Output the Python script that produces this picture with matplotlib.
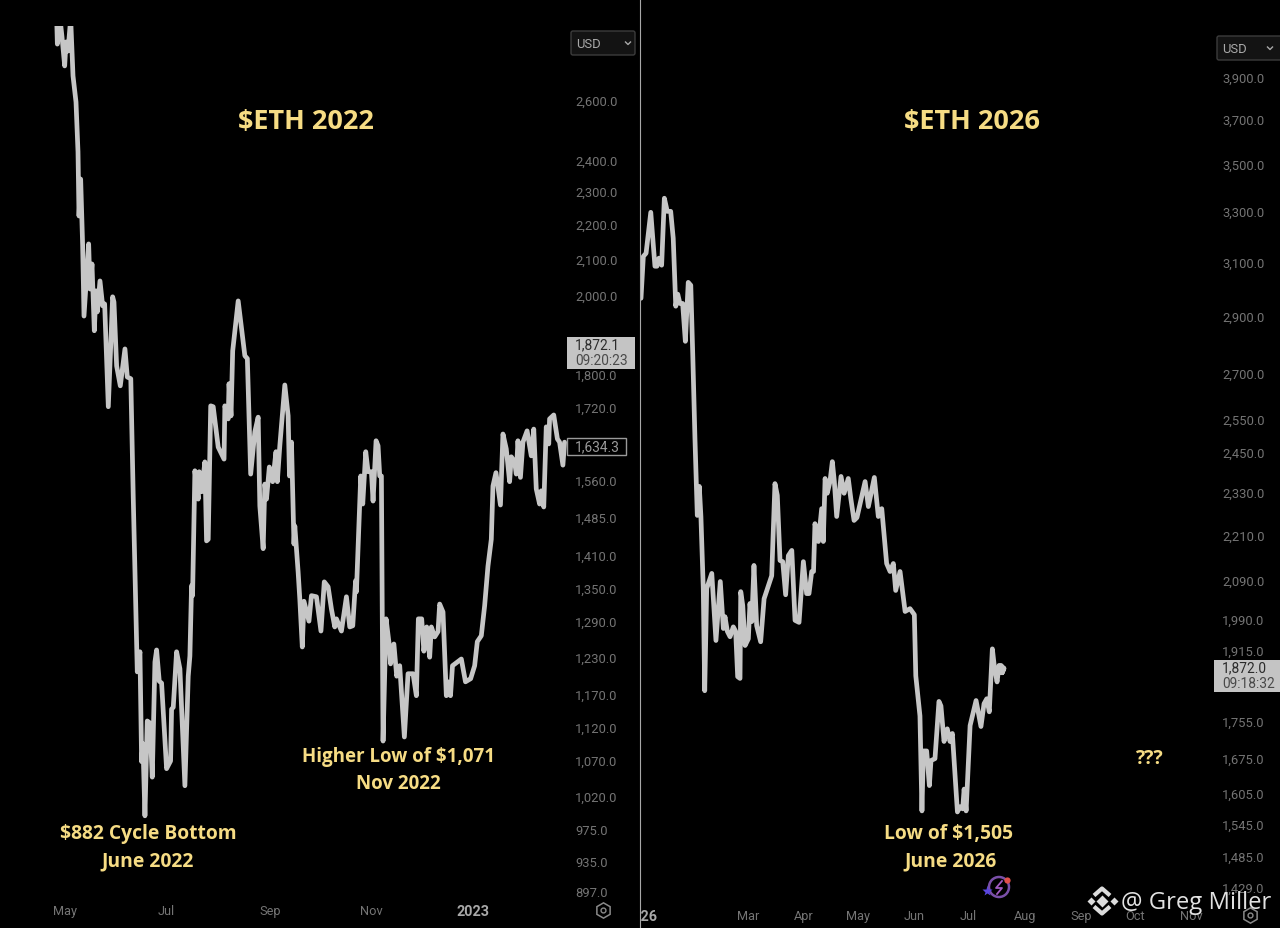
import matplotlib
matplotlib.use('Agg')
import matplotlib.pyplot as plt
from matplotlib.patches import FancyBboxPatch, Rectangle, Circle
from matplotlib.ticker import FixedLocator, FixedFormatter, NullLocator

# --- datos 2022: dias desde 1 mayo 2022, precio ETH ---
days_2022 = [-5.0, -4.6, -3.0, -1.8, -0.2, 0.6, 1.8, 3.4, 4.2, 4.8, 6.6, 7.8, 8.4, 9.4, 10.6, 11.4,
             14.2, 15, 16.2, 17.6, 18.6, 19.4, 21, 22.6, 23.8, 26, 28.6, 29.4, 31, 33.2, 36, 37.4,
             39.5, 41, 43.1, 43.4, 45, 46, 46.8, 48, 49.4, 51, 52.4, 54, 55, 56.6, 58, 61, 63.4,
             64, 65, 67, 69, 72, 74, 75, 76, 76.6, 78, 80, 80.6, 82, 84, 85, 86, 87.5, 89, 92,
             95.5, 96, 98, 98.5, 99.7, 100.7, 104, 108, 109.5, 111.5, 114, 116, 117, 119, 120,
             121, 122.7, 124.7, 126.7, 127.5, 129, 132, 134, 134.8, 136, 137.5, 138, 140, 141,
             142.5, 143.5, 146.5, 148, 151, 153.7, 155.7, 158, 160, 162, 163, 166, 169, 171,
             172.8, 174.5, 175, 177.6, 178.8, 180.6, 182, 184, 185, 186.8, 188, 189, 190, 191,
             192.8, 194.8, 195.5, 197.5, 199.2, 201, 203.8, 206, 209, 211, 212.2, 214.2, 215.5,
             217.2, 219, 220, 222, 224, 225, 227, 229, 230, 231.5, 232.7, 238, 240.5, 243.6, 246,
             247.6, 250, 252, 254, 256, 257, 258.8, 261.5, 263, 265, 267, 268, 270, 271, 272,
             273.5, 275, 277.5, 280, 281.5, 283, 285, 286, 287.5, 289, 290.5, 291, 293.5, 295.7,
             297, 299, 300]
price_2022 = [2900, 2802, 2900, 2829, 2721, 2810, 2776, 2900, 2772, 2685, 2592, 2424, 2224, 2337, 2136, 1944,
              2142, 2016, 2085, 1906, 2011, 1955, 2038, 1971, 1976, 1721, 1995, 1981, 1818, 1770, 1860, 1791,
              1787, 1520, 1238, 1205, 1238, 1068, 1094, 993, 1128, 1125, 1046, 1221, 1241, 1190, 1187, 1058, 1069,
              1146, 1149, 1238, 1210, 1034, 1198, 1231, 1353, 1335, 1579, 1520, 1577, 1535, 1598, 1437, 1440, 1723, 1721, 1630,
              1604, 1723, 1693, 1775, 1700, 1855, 1984, 1843, 1836, 1572, 1664, 1697, 1506, 1422, 1551,
              1520, 1587, 1556, 1620, 1556, 1633, 1772, 1700, 1568, 1641, 1431, 1466, 1378, 1329,
              1246, 1325, 1290, 1335, 1333, 1273, 1360, 1351, 1311, 1280, 1294, 1273, 1333, 1280,
              1282, 1362, 1342, 1568, 1510, 1620, 1577, 1577, 1516, 1644, 1633, 1568, 1568, 1098,
              1294, 1248, 1218, 1251, 1198, 1215, 1104, 1202, 1202, 1167, 1294, 1294, 1239,
              1280, 1229, 1280, 1263, 1272, 1320, 1306, 1167, 1189, 1167, 1215, 1226, 1189, 1194, 1215,
              1255, 1265, 1317, 1389, 1440, 1547, 1575, 1508, 1659, 1626, 1556, 1609, 1598, 1572, 1644,
              1565, 1641, 1666, 1611, 1670, 1541, 1510, 1537, 1504, 1675, 1637, 1693, 1702, 1648,
              1641, 1591, 1641]

# --- datos 2026: dias desde 1 enero 2026 ---
days_2026 = [0, 1.3, 2.8, 5.4, 7.7, 8.8, 9.9, 11.4, 12.9, 14.5, 16.4, 17.8, 19.2, 20.3, 21.5, 23, 24.5,
             26.1, 27.5, 28.6, 29.8, 31.1, 32.2, 33.1, 34.4, 35.2, 36.3, 39.1, 41.4, 43.8, 45.5, 46.4,
             47.7, 49.2, 51, 52.3, 53.4, 54.7, 55.1, 56.2, 57.5, 59.3, 60.2, 61.2, 62.4, 63.9, 66.1, 68,
             72.2, 74, 75.3, 76.8, 78.3, 79.9, 81.4, 83.3, 85.1, 87.3, 89.7, 91.5, 92.8, 94.3, 95.3, 96.1,
             98, 99.8, 100.7, 101.7, 102.9, 104.4, 105.7, 106.8, 108.1, 110.5, 112.2, 114.5, 115.9, 117.7,
             119.3, 123.8, 125.6, 128.9, 131.1, 133, 135.7, 137.6, 139.4, 140.7, 143.1, 145.9, 148.6, 151,
             151.8, 154.1, 155.2, 156, 157.8, 159.3, 160.2, 162.4, 164.6, 165.7, 167.4, 169.2, 170.7, 172,
             174.8, 176.2, 177.7, 178.5, 179.6, 181.8, 185.1, 187.8, 189.5, 191, 192.4, 194.1, 195.2, 196.7,
             197.8, 198.9, 200.5, 199.5, 200.5]
price_2026 = [2962, 3120, 3132, 3295, 3082, 3082, 3113, 3086, 3353, 3299, 3299, 3191, 2933, 2977, 2943, 2943, 2808,
              3021, 3010, 2760, 2490, 2263, 2346, 2260, 2067, 1821, 2067, 2106, 1938, 2085, 1967, 1996,
              1960, 1947, 1971, 1960, 1853, 1849, 2059, 2024, 1926, 1942, 2029, 1984, 2127, 1974, 1935, 2041,
              2100, 2354, 2320, 2140, 2137, 2051, 2153, 2167, 1987, 1982, 2137, 2054, 2054, 2111, 2111, 2240,
              2191, 2282, 2191, 2369, 2326, 2360, 2419, 2360, 2260, 2375, 2326, 2369, 2311, 2249,
              2257, 2360, 2288, 2372, 2260, 2282, 2132, 2111, 2132, 2062, 2111, 2009, 2016, 2001,
              1855, 1765, 1569, 1690, 1690, 1619, 1670, 1674, 1797, 1787, 1710, 1737, 1710, 1727,
              1567, 1577, 1573, 1612, 1569, 1744, 1799, 1742, 1792, 1803, 1774, 1918, 1876, 1841,
              1879, 1879, 1872, 1862, 1872]

yticks_2022 = [2600, 2400, 2300, 2200, 2100, 2000, 1800, 1720, 1560, 1485, 1410, 1350, 1290,
               1230, 1170, 1120, 1070, 1020, 975, 935, 897]
yticks_2026 = [3900, 3700, 3500, 3300, 3100, 2900, 2700, 2550, 2450, 2330, 2210, 2090, 1990,
               1915, 1755, 1675, 1605, 1545, 1485, 1429]
xticks_2022 = [0, 61, 123, 184, 245]
xlabels_2022 = ['May', 'Jul', 'Sep', 'Nov', '2023']
xticks_2026 = [0, 59, 90, 120, 151, 181, 212, 243, 273, 304]
xlabels_2026 = ['2026', 'Mar', 'Apr', 'May', 'Jun', 'Jul', 'Aug', 'Sep', 'Oct', 'Nov']

W, H = 1280, 929
GRIS = '#c6c6c6'
AMARILLO = '#f6dc84'
TICK = '#747474'
plt.rcParams['font.family'] = ['Roboto', 'DejaVu Sans']

fig = plt.figure(figsize=(12.8, 9.29), dpi=100, facecolor='black')


def panel(x0, x1, ylim, xlim, days, price, yticks, xticks, xlabels, ypad, xpad):
    ax = fig.add_axes([x0 / W, 0, (x1 - x0) / W, (H - 27) / H], facecolor='black')
    ax.plot(days, price, color=GRIS, lw=3.4, solid_joinstyle='round', solid_capstyle='round')
    ax.set_yscale('log')
    ax.set_xlim(*xlim)
    ax.set_ylim(*ylim)
    for s in ax.spines.values():
        s.set_visible(False)
    ax.yaxis.tick_right()
    ax.yaxis.set_major_locator(FixedLocator(yticks))
    ax.yaxis.set_major_formatter(FixedFormatter([f'{t:,.1f}' for t in yticks]))
    ax.yaxis.set_minor_locator(NullLocator())
    ax.tick_params(axis='y', which='both', length=0, pad=ypad, labelsize=9.4, labelcolor=TICK)
    ax.set_xticks(xticks)
    ax.set_xticklabels(xlabels)
    ax.tick_params(axis='x', length=0, pad=xpad, labelsize=9.2, labelcolor=TICK)
    for lab in ax.get_xticklabels():
        lab.set_clip_box(ax.bbox)
        lab.set_clip_on(True)
        if lab.get_text() in ('2023', '2026'):
            lab.set_fontweight('bold')
            lab.set_fontsize(10.4)
            lab.set_color('#a8a8a8')
    return ax


panel(0, 639, (854, 2871), (-39.04, 344.7), days_2022, price_2022,
      yticks_2022, xticks_2022, xlabels_2022, -46, -17)
panel(641, 1280, (1357, 4151), (0, 353), days_2026, price_2026,
      yticks_2026, xticks_2026, xlabels_2026, -41.8, -13.5)

# capa de anotaciones en pixeles
ov = fig.add_axes([0, 0, 1, 1], facecolor='none')
ov.set_xlim(0, W)
ov.set_ylim(H, 0)
ov.axis('off')
ov.plot([639.5, 639.5], [0, H], color='#a8a8a8', lw=0.8)


def caja_usd(x, y, w, h, chev):
    ov.add_patch(FancyBboxPatch((x + 2, y + 2), w - 4, h - 4, boxstyle='round,pad=2',
                                fc='#131313', ec='#3c3c3c', lw=1))
    ov.text(x + 5, y + h / 2, 'USD', color='#a9a9a9', fontsize=9.4, va='center', ha='left')
    ov.plot([chev - 2.5, chev, chev + 2.5], [y + h / 2 - 1, y + h / 2 + 1.5, y + h / 2 - 1],
            color='#a9a9a9', lw=1)


caja_usd(571, 32, 64, 24, 628)
caja_usd(1217, 37, 70, 24, 1270)


def etiqueta(x, y, w, h, tx, linea1, linea2):
    ov.add_patch(Rectangle((x, y), w, h, fc='#c4c4c4', ec='none'))
    ov.text(tx, y + 7.5, linea1, color='#2b2b2b', fontsize=9.9, ha='left', va='center')
    ov.text(tx, y + 22.5, linea2, color='#4a4a4a', fontsize=9.9, ha='left', va='center')


etiqueta(567, 338, 68, 32, 575, '1,872.1', '09:20:23')
etiqueta(1214, 661, 68, 32, 1222, '1,872.0', '09:18:32')
ov.add_patch(Rectangle((567, 439), 59, 17, fc='black', ec='#9a9a9a', lw=1))
ov.text(575, 447.5, '1,634.3', color='#9a9a9a', fontsize=9.9, ha='left', va='center')

# titulos y notas
kw = dict(color=AMARILLO, family=['Open Sans', 'DejaVu Sans'], fontweight='bold', ha='center', va='center')
ov.text(306, 122, '$ETH 2022', fontsize=19.5, **kw)
ov.text(972, 122, '$ETH 2026', fontsize=19.5, **kw)
ov.text(148, 834, '$882 Cycle Bottom', fontsize=13.9, **kw)
ov.text(148, 861, 'June 2022', fontsize=13.9, **kw)
ov.text(398, 757, 'Higher Low of $1,071', fontsize=13.5, **kw)
ov.text(398, 784, 'Nov 2022', fontsize=13.5, **kw)
ov.text(949, 834, 'Low of $1,505', fontsize=13.9, **kw)
ov.text(951, 861, 'June 2026', fontsize=13.9, **kw)
ov.text(1150, 759, '???', fontsize=13.9, **kw)

# engranajes
for gx, gy in [(603, 911), (1250, 916)]:
    ov.plot(gx, gy, marker='h', ms=11, mfc='none', mec='#8a8a8a', mew=1.1)
    ov.plot(gx, gy, marker='o', ms=3.5, mfc='none', mec='#8a8a8a', mew=1)

# icono morado
ov.add_patch(Circle((999, 888), 10, fc='none', ec='#7a4fa8', lw=1.8))
ov.plot([1002, 996, 1002, 997], [882, 889, 889, 895], color='#a05ac0', lw=1.3)
ov.plot(987, 892, marker='*', ms=8, color='#5a46e0', mec='none')
ov.plot(1007, 881, marker='o', ms=4.5, color='#e0504a', mec='none')

# marca de agua: logo y texto
LOGO = '#dcdcdc'
ov.plot([1094, 1102, 1110], [896.5, 889.5, 896.5], color=LOGO, lw=3, solid_capstyle='butt')
ov.plot([1094, 1102, 1110], [907.5, 914.5, 907.5], color=LOGO, lw=3, solid_capstyle='butt')
for mx, my, ms in [(1090.5, 902, 4), (1113.5, 902, 4), (1102, 902, 6)]:
    ov.plot(mx, my, marker='D', ms=ms, color=LOGO, mec='none')
ov.text(1121, 903, '@ Greg Miller', color='#e2e2e2', fontsize=17.2,
        family=['Open Sans', 'DejaVu Sans'], ha='left', va='center')

fig.savefig('out.png', dpi=100, facecolor='black')
